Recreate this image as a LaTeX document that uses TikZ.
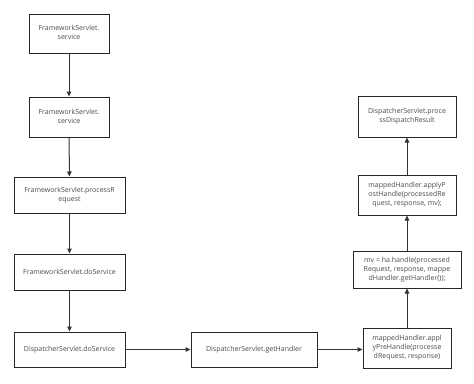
\documentclass[tikz,border=0pt]{standalone}
\usepackage{fontspec}
\setmainfont{Open Sans}
\usetikzlibrary{arrows.meta}
\newcommand{\ctext}[1]{\begin{tabular}{@{}c@{}}#1\end{tabular}}
\begin{document}
\begin{tikzpicture}[x=1pt,y=-1pt,
  box/.style={draw=black!85,line width=1pt,fill=white,inner sep=0pt,
    font=\fontsize{7}{9}\selectfont,text=black!70},
  link/.style={draw=black!80,line width=1pt,-{Triangle[length=5pt,width=4.5pt]}}]
\useasboundingbox (0,0) rectangle (474,383);
\node[box,minimum width=80pt,minimum height=39pt] (a) at (69,33.5) {\ctext{FrameworkServlet.\\service}};
\node[box,minimum width=80pt,minimum height=40pt] (b) at (69,117) {\ctext{FrameworkServlet.\\service}};
\node[box,minimum width=111pt,minimum height=36pt] (c) at (69.5,195) {\ctext{FrameworkServlet.processR\\equest}};
\node[box,minimum width=111pt,minimum height=36pt] (d) at (69.5,272) {FrameworkServlet.doService};
\node[box,minimum width=111pt,minimum height=35pt] (e) at (69.5,349.5) {DispatcherServlet.doService};
\node[box,minimum width=126pt,minimum height=35pt] (f) at (254,349.5) {DispatcherServlet.getHandler};
\node[box,minimum width=88pt,minimum height=40pt] (g) at (407,348) {\ctext{mappedHandler.appl\\yPreHandle(processe\\dRequest, response)}};
\node[box,minimum width=108pt,minimum height=37pt] (h) at (407,269.5) {\ctext{mv = ha.handle(processed\\Request, response, mappe\\dHandler.getHandler());}};
\node[box,minimum width=98pt,minimum height=40pt] (i) at (407,195) {\ctext{mappedHandler.applyP\\ostHandle(processedRe\\quest, response, mv);}};
\node[box,minimum width=98pt,minimum height=41pt] (j) at (407,116.5) {\ctext{DispatcherServlet.proce\\ssDispatchResult}};
\draw[link] (a) -- (b);
\draw[link] (b) -- (c);
\draw[link] (c) -- (d);
\draw[link] (d) -- (e);
\draw[link] (e) -- (f);
\draw[link] (f.east) -- (f.east -| g.west);
\draw[link] (g) -- (h);
\draw[link] (h) -- (i);
\draw[link] (i) -- (j);
\end{tikzpicture}
\end{document}
